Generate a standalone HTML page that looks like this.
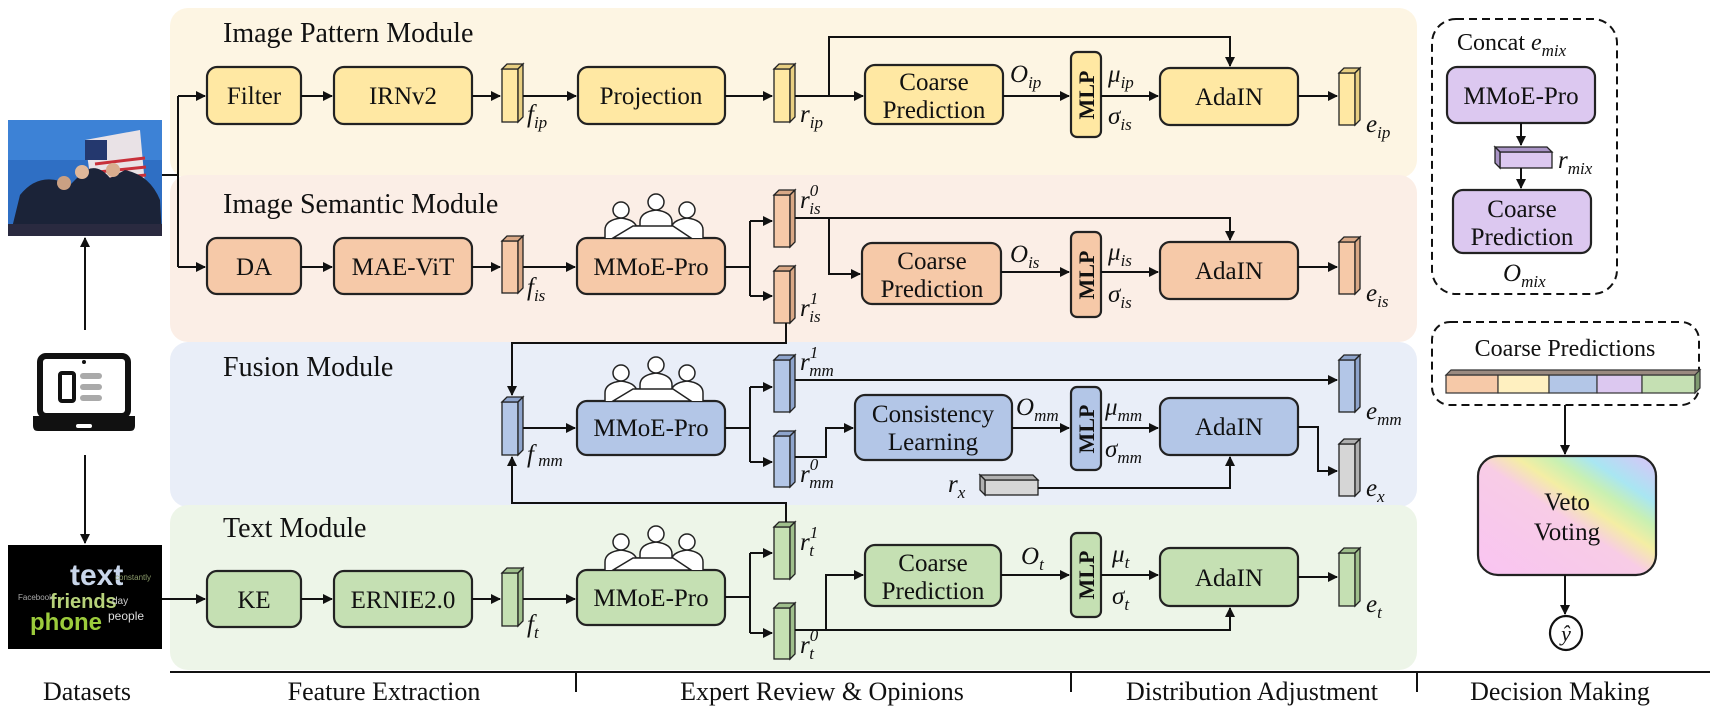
<!DOCTYPE html>
<html><head><meta charset="utf-8"><style>
html,body{margin:0;padding:0;background:#fff}
svg{display:block}
text{font-family:"Liberation Serif",serif;fill:#111}
.bl{font-size:25px;text-anchor:middle}
.ti{font-size:28px}
.bt{font-size:26px;text-anchor:middle}
.m{font-size:25px;font-style:italic}
.s{font-size:17px}
.ln{fill:none;stroke:#111;stroke-width:2}
.bx{stroke:#222;stroke-width:2.2}
</style></head><body>
<svg width="1710" height="713" viewBox="0 0 1710 713" xmlns="http://www.w3.org/2000/svg">
<defs>
<marker id="a" markerWidth="10" markerHeight="10" refX="9" refY="5" orient="auto" markerUnits="userSpaceOnUse"><path d="M0,0 L10,5 L0,10 z" fill="#111"/></marker>
<linearGradient id="vg" x1="0" y1="1" x2="1" y2="0">
<stop offset="0" stop-color="#f9c4f2"/><stop offset="0.48" stop-color="#f8cce6"/><stop offset="0.6" stop-color="#f4eea4"/><stop offset="0.7" stop-color="#c9f0b2"/><stop offset="0.8" stop-color="#a9e6f2"/><stop offset="1" stop-color="#dcc2f8"/>
</linearGradient>
<g id="ex">
<polygon points="-38,0 -18,-12 22,-12 40,0" fill="#fff" stroke="#222" stroke-width="1.5"/>
<g fill="#fff" stroke="#222" stroke-width="1.5">
<path d="M-46,0 v-8 q0,-10 16,-12 q16,2 16,12 v8"/><circle cx="-30" cy="-28" r="8"/>
<path d="M-11,-12 v-4 q0,-10 16,-12 q16,2 16,12 v4"/><circle cx="5" cy="-36" r="8"/>
<path d="M20,0 v-8 q0,-10 16,-12 q16,2 16,12 v8"/><circle cx="36" cy="-28" r="8"/>
</g>
<polygon points="-38,0 -18,-12 22,-12 40,0" fill="#fff" stroke="#222" stroke-width="1.5"/>
</g>
</defs>

<!-- panels -->
<rect x="170" y="8" width="1247" height="170" rx="18" fill="#fdf5e3"/>
<rect x="170" y="175" width="1247" height="167" rx="18" fill="#fbeee6"/>
<rect x="170" y="342" width="1247" height="165" rx="18" fill="#e9eef8"/>
<rect x="170" y="505" width="1247" height="165" rx="18" fill="#edf5e8"/>

<!-- photo -->
<rect x="8" y="120" width="154" height="116" fill="#2f6fc4"/>
<rect x="8" y="120" width="154" height="40" fill="#3d82d6"/>
<polygon points="85,140 140,130 145,185 92,190" fill="#e9e2e6"/>
<rect x="85" y="140" width="22" height="20" fill="#24386e"/>
<path d="M95,164 l50,-6 M98,172 l48,-5 M100,180 l46,-5" stroke="#c8303a" stroke-width="3"/>
<path d="M10,236 L20,195 Q40,170 70,185 L80,175 Q95,160 110,178 L125,170 Q150,175 160,200 L162,236 Z" fill="#1b2338"/>
<circle cx="82" cy="172" r="7" fill="#e0b89a"/><circle cx="113" cy="170" r="7" fill="#d9ad8e"/><circle cx="64" cy="183" r="7" fill="#caa083"/>
<rect x="8" y="224" width="154" height="12" fill="#2a2a40"/>

<!-- laptop -->
<rect x="40" y="356" width="88" height="60" rx="6" fill="#fff" stroke="#111" stroke-width="6"/>
<path d="M33,416 h102 v10 q0,5 -5,5 h-92 q-5,0 -5,-5 z" fill="#111"/>
<rect x="76" y="424" width="16" height="4" rx="2" fill="#fff"/>
<circle cx="84" cy="362" r="2" fill="#111"/>
<rect x="60" y="373" width="14" height="28" rx="2" fill="#fff" stroke="#111" stroke-width="4"/>
<rect x="80" y="373" width="22" height="6" rx="3" fill="#aaa"/><rect x="80" y="384" width="22" height="6" rx="3" fill="#aaa"/><rect x="80" y="395" width="22" height="6" rx="3" fill="#aaa"/>

<!-- wordcloud -->
<rect x="8" y="545" width="154" height="104" fill="#000"/>
<text x="70" y="585" style="font-family:'Liberation Sans',sans-serif;font-size:30px;font-weight:bold;fill:#c9d6ea">text</text>
<text x="50" y="608" style="font-family:'Liberation Sans',sans-serif;font-size:20px;font-weight:bold;fill:#b7d27a">friends</text>
<text x="30" y="630" style="font-family:'Liberation Sans',sans-serif;font-size:24px;font-weight:bold;fill:#9ccc3c">phone</text>
<text x="108" y="620" style="font-family:'Liberation Sans',sans-serif;font-size:12px;fill:#ddd">people</text>
<text x="112" y="604" style="font-family:'Liberation Sans',sans-serif;font-size:10px;fill:#ccc">day</text>
<text x="18" y="600" style="font-family:'Liberation Sans',sans-serif;font-size:8px;fill:#aaa">Facebook</text>
<text x="115" y="580" style="font-family:'Liberation Sans',sans-serif;font-size:8px;fill:#8a9a6a">constantly</text>

<!-- laptop arrows -->
<path class="ln" d="M85,330 V238" marker-end="url(#a)"/>
<path class="ln" d="M85,455 V543" marker-end="url(#a)"/>

<!-- titles -->
<text class="ti" x="223" y="42">Image Pattern Module</text>
<text class="ti" x="223" y="213">Image Semantic Module</text>
<text class="ti" x="223" y="376">Fusion Module</text>
<text class="ti" x="223" y="537">Text Module</text>

<!-- ===== Row 1 yellow ===== -->
<g fill="#ffe8a3" class="bx">
<rect x="207" y="67" width="94" height="57" rx="10"/>
<rect x="334" y="67" width="138" height="57" rx="10"/>
<rect x="578" y="67" width="147" height="57" rx="10"/>
<rect x="865" y="65" width="138" height="59" rx="10"/>
<rect x="1071" y="52" width="30" height="85" rx="6"/>
<rect x="1160" y="68" width="138" height="57" rx="10"/>
</g>
<text class="bl" x="254" y="104">Filter</text>
<text class="bl" x="403" y="104">IRNv2</text>
<text class="bl" x="651" y="104">Projection</text>
<text class="bl" x="934" y="90">Coarse</text><text class="bl" x="934" y="118">Prediction</text>
<text class="bl" x="1229" y="105">AdaIN</text>
<text class="bl" x="0" y="0" transform="translate(1094,95) rotate(-90)" style="font-weight:bold;font-size:22px">MLP</text>

<!-- ===== Row 2 salmon ===== -->
<g fill="#f6c9a8" class="bx">
<rect x="207" y="238" width="94" height="56" rx="10"/>
<rect x="334" y="238" width="138" height="56" rx="10"/>
<rect x="577" y="238" width="148" height="56" rx="10"/>
<rect x="862" y="243" width="139" height="61" rx="10"/>
<rect x="1071" y="232" width="30" height="85" rx="6"/>
<rect x="1160" y="242" width="138" height="57" rx="10"/>
</g>
<text class="bl" x="254" y="275">DA</text>
<text class="bl" x="403" y="275">MAE-ViT</text>
<text class="bl" x="651" y="275">MMoE-Pro</text>
<text class="bl" x="932" y="269">Coarse</text><text class="bl" x="932" y="297">Prediction</text>
<text class="bl" x="1229" y="279">AdaIN</text>
<text class="bl" x="0" y="0" transform="translate(1094,275) rotate(-90)" style="font-weight:bold;font-size:22px">MLP</text>
<use href="#ex" x="651" y="238"/>

<!-- ===== Fusion blue ===== -->
<g fill="#b3c6e7" class="bx">
<rect x="577" y="401" width="148" height="54" rx="10"/>
<rect x="855" y="395" width="157" height="65" rx="10"/>
<rect x="1071" y="387" width="30" height="83" rx="6"/>
<rect x="1160" y="398" width="138" height="57" rx="10"/>
</g>
<text class="bl" x="651" y="436">MMoE-Pro</text>
<text class="bl" x="933" y="422">Consistency</text><text class="bl" x="933" y="450">Learning</text>
<text class="bl" x="1229" y="435">AdaIN</text>
<text class="bl" x="0" y="0" transform="translate(1094,429) rotate(-90)" style="font-weight:bold;font-size:22px">MLP</text>
<use href="#ex" x="651" y="401"/>

<!-- ===== Text green ===== -->
<g fill="#c5e0b3" class="bx">
<rect x="207" y="571" width="94" height="56" rx="10"/>
<rect x="334" y="571" width="138" height="56" rx="10"/>
<rect x="577" y="570" width="148" height="55" rx="10"/>
<rect x="865" y="545" width="136" height="61" rx="10"/>
<rect x="1071" y="533" width="30" height="84" rx="6"/>
<rect x="1160" y="548" width="138" height="58" rx="10"/>
</g>
<text class="bl" x="254" y="608">KE</text>
<text class="bl" x="403" y="608">ERNIE2.0</text>
<text class="bl" x="651" y="606">MMoE-Pro</text>
<text class="bl" x="933" y="571">Coarse</text><text class="bl" x="933" y="599">Prediction</text>
<text class="bl" x="1229" y="586">AdaIN</text>
<text class="bl" x="0" y="0" transform="translate(1094,575) rotate(-90)" style="font-weight:bold;font-size:22px">MLP</text>
<use href="#ex" x="651" y="570"/>

<!-- ===== cuboids (vertical) ===== -->
<g stroke="#222" stroke-width="1.3">
<!-- yellow -->
<g fill="#ffe8a3"><rect x="502" y="69" width="16" height="53"/><rect x="774" y="69" width="16" height="53"/><rect x="1339" y="73" width="16" height="52"/></g>
<g fill="#e8cf82"><polygon points="502,69 507,64 523,64 518,69"/><polygon points="518,69 523,64 523,117 518,122"/>
<polygon points="774,69 779,64 795,64 790,69"/><polygon points="790,69 795,64 795,117 790,122"/>
<polygon points="1339,73 1344,68 1360,68 1355,73"/><polygon points="1355,73 1360,68 1360,120 1355,125"/></g>
<!-- salmon -->
<g fill="#f6c9a8"><rect x="502" y="241" width="16" height="52"/><rect x="774" y="195" width="16" height="52"/><rect x="774" y="271" width="16" height="52"/><rect x="1339" y="242" width="16" height="52"/></g>
<g fill="#d9a886"><polygon points="502,241 507,236 523,236 518,241"/><polygon points="518,241 523,236 523,288 518,293"/>
<polygon points="774,195 779,190 795,190 790,195"/><polygon points="790,195 795,190 795,242 790,247"/>
<polygon points="774,271 779,266 795,266 790,271"/><polygon points="790,271 795,266 795,318 790,323"/>
<polygon points="1339,242 1344,237 1360,237 1355,242"/><polygon points="1355,242 1360,237 1360,289 1355,294"/></g>
<!-- blue -->
<g fill="#b3c6e7"><rect x="502" y="402" width="16" height="53"/><rect x="774" y="360" width="16" height="52"/><rect x="774" y="436" width="16" height="51"/><rect x="1339" y="360" width="16" height="52"/></g>
<g fill="#8ea4cc"><polygon points="502,402 507,397 523,397 518,402"/><polygon points="518,402 523,397 523,450 518,455"/>
<polygon points="774,360 779,355 795,355 790,360"/><polygon points="790,360 795,355 795,407 790,412"/>
<polygon points="774,436 779,431 795,431 790,436"/><polygon points="790,436 795,431 795,482 790,487"/>
<polygon points="1339,360 1344,355 1360,355 1355,360"/><polygon points="1355,360 1360,355 1360,407 1355,412"/></g>
<!-- gray e_x -->
<rect x="1339" y="444" width="16" height="52" fill="#d6d6d6"/>
<g fill="#b0b0b0"><polygon points="1339,444 1344,439 1360,439 1355,444"/><polygon points="1355,444 1360,439 1360,491 1355,496"/></g>
<!-- green -->
<g fill="#c5e0b3"><rect x="502" y="573" width="16" height="53"/><rect x="774" y="527" width="16" height="52"/><rect x="774" y="608" width="16" height="51"/><rect x="1339" y="553" width="16" height="53"/></g>
<g fill="#9fbf8c"><polygon points="502,573 507,568 523,568 518,573"/><polygon points="518,573 523,568 523,621 518,626"/>
<polygon points="774,527 779,522 795,522 790,527"/><polygon points="790,527 795,522 795,574 790,579"/>
<polygon points="774,608 779,603 795,603 790,608"/><polygon points="790,608 795,603 795,654 790,659"/>
<polygon points="1339,553 1344,548 1360,548 1355,553"/><polygon points="1355,553 1360,548 1360,601 1355,606"/></g>
<!-- r_x horizontal gray -->
<rect x="985" y="480" width="53" height="15" fill="#d6d6d6"/>
<g fill="#b0b0b0"><polygon points="985,480 980,475 1033,475 1038,480"/><polygon points="985,480 980,475 980,490 985,495"/></g>
<!-- r_mix horizontal purple -->
<rect x="1500" y="152" width="52" height="16" fill="#dcc8f0"/>
<g fill="#a994c6"><polygon points="1500,152 1495,147 1547,147 1552,152"/><polygon points="1500,152 1495,147 1495,163 1500,168"/></g>
</g>

<!-- ===== connectors ===== -->
<g class="ln">
<path d="M162,175 H178"/><path d="M178,96 V267"/>
<path d="M178,96 H205" marker-end="url(#a)"/><path d="M178,267 H205" marker-end="url(#a)"/>
<path d="M301,96 H332" marker-end="url(#a)"/><path d="M472,96 H500" marker-end="url(#a)"/>
<path d="M523,96 H576" marker-end="url(#a)"/><path d="M725,96 H772" marker-end="url(#a)"/>
<path d="M795,96 H863" marker-end="url(#a)"/><path d="M1003,96 H1069" marker-end="url(#a)"/>
<path d="M1101,96 H1158" marker-end="url(#a)"/><path d="M1298,96 H1337" marker-end="url(#a)"/>
<path d="M829,96 V37 H1230 V66" marker-end="url(#a)"/>

<path d="M301,267 H332" marker-end="url(#a)"/><path d="M472,267 H500" marker-end="url(#a)"/>
<path d="M523,267 H575" marker-end="url(#a)"/>
<path d="M725,267 H750 M750,221 V296"/>
<path d="M750,221 H772" marker-end="url(#a)"/><path d="M750,296 H772" marker-end="url(#a)"/>
<path d="M795,218 H1230 V240" marker-end="url(#a)"/>
<path d="M829,218 V274 H860" marker-end="url(#a)"/>
<path d="M1001,272 H1069" marker-end="url(#a)"/><path d="M1101,272 H1158" marker-end="url(#a)"/>
<path d="M1298,267 H1337" marker-end="url(#a)"/>
<path d="M786,323 V343 H512 V395" marker-end="url(#a)"/>

<path d="M523,428 H575" marker-end="url(#a)"/>
<path d="M725,428 H750 M750,387 V462"/>
<path d="M750,387 H772" marker-end="url(#a)"/><path d="M750,462 H772" marker-end="url(#a)"/>
<path d="M795,380 H1337" marker-end="url(#a)"/>
<path d="M795,457 H826 V428 H853" marker-end="url(#a)"/>
<path d="M1012,428 H1069" marker-end="url(#a)"/><path d="M1101,428 H1158" marker-end="url(#a)"/>
<path d="M1298,427 H1318 V471 H1337" marker-end="url(#a)"/>
<path d="M1038,488 H1230 V457" marker-end="url(#a)"/>
<path d="M786,522 V503 H512 V457" marker-end="url(#a)"/>

<path d="M162,599 H205" marker-end="url(#a)"/>
<path d="M301,599 H332" marker-end="url(#a)"/><path d="M472,599 H500" marker-end="url(#a)"/>
<path d="M523,599 H575" marker-end="url(#a)"/>
<path d="M725,597 H750 M750,553 V633"/>
<path d="M750,553 H772" marker-end="url(#a)"/><path d="M750,633 H772" marker-end="url(#a)"/>
<path d="M795,630 H1230 V608" marker-end="url(#a)"/>
<path d="M826,630 V575 H863" marker-end="url(#a)"/>
<path d="M1001,575 H1069" marker-end="url(#a)"/><path d="M1101,575 H1158" marker-end="url(#a)"/>
<path d="M1298,577 H1337" marker-end="url(#a)"/>
</g>

<!-- ===== math labels ===== -->
<g class="m">
<text x="527" y="122">f<tspan class="s" dy="6">ip</tspan></text>
<text x="800" y="122">r<tspan class="s" dy="6">ip</tspan></text>
<text x="1010" y="82">O<tspan class="s" dy="6">ip</tspan></text>
<text x="1108" y="82">μ<tspan class="s" dy="6">ip</tspan></text>
<text x="1108" y="124">σ<tspan class="s" dy="6">is</tspan></text>
<text x="1366" y="132">e<tspan class="s" dy="6">ip</tspan></text>

<text x="527" y="295">f<tspan class="s" dy="6">is</tspan></text>
<text x="800" y="208">r<tspan class="s" dy="-12">0</tspan><tspan class="s" dx="-9" dy="18">is</tspan></text>
<text x="800" y="316">r<tspan class="s" dy="-12">1</tspan><tspan class="s" dx="-9" dy="18">is</tspan></text>
<text x="1010" y="262">O<tspan class="s" dy="6">is</tspan></text>
<text x="1108" y="260">μ<tspan class="s" dy="6">is</tspan></text>
<text x="1108" y="302">σ<tspan class="s" dy="6">is</tspan></text>
<text x="1366" y="301">e<tspan class="s" dy="6">is</tspan></text>

<text x="527" y="462">f<tspan class="s" dy="4"> mm</tspan></text>
<text x="800" y="370">r<tspan class="s" dy="-12">1</tspan><tspan class="s" dx="-9" dy="18">mm</tspan></text>
<text x="800" y="482">r<tspan class="s" dy="-12">0</tspan><tspan class="s" dx="-9" dy="18">mm</tspan></text>
<text x="1016" y="415">O<tspan class="s" dy="6">mm</tspan></text>
<text x="1105" y="415">μ<tspan class="s" dy="6">mm</tspan></text>
<text x="1105" y="457">σ<tspan class="s" dy="6">mm</tspan></text>
<text x="1366" y="419">e<tspan class="s" dy="6">mm</tspan></text>
<text x="1366" y="496">e<tspan class="s" dy="6">x</tspan></text>
<text x="948" y="492">r<tspan class="s" dy="6">x</tspan></text>

<text x="527" y="632">f<tspan class="s" dy="6">t</tspan></text>
<text x="800" y="550">r<tspan class="s" dy="-12">1</tspan><tspan class="s" dx="-9" dy="18">t</tspan></text>
<text x="800" y="653">r<tspan class="s" dy="-12">0</tspan><tspan class="s" dx="-9" dy="18">t</tspan></text>
<text x="1021" y="564">O<tspan class="s" dy="6">t</tspan></text>
<text x="1112" y="562">μ<tspan class="s" dy="6">t</tspan></text>
<text x="1112" y="604">σ<tspan class="s" dy="6">t</tspan></text>
<text x="1366" y="612">e<tspan class="s" dy="6">t</tspan></text>
</g>

<!-- ===== right side ===== -->
<rect x="1432" y="19" width="185" height="275" rx="24" fill="none" stroke="#111" stroke-width="2" stroke-dasharray="8,5"/>
<text x="1457" y="50" style="font-size:24px">Concat <tspan font-style="italic">e</tspan><tspan font-style="italic" class="s" dy="6">mix</tspan></text>
<rect x="1447" y="67" width="148" height="56" rx="10" fill="#dcc8f0" class="bx"/>
<text class="bl" x="1521" y="104">MMoE-Pro</text>
<path class="ln" d="M1521,123 V145" marker-end="url(#a)"/>
<path class="ln" d="M1521,168 V188" marker-end="url(#a)"/>
<text class="m" x="1558" y="168">r<tspan class="s" dy="6">mix</tspan></text>
<rect x="1453" y="190" width="138" height="63" rx="10" fill="#dcc8f0" class="bx"/>
<text class="bl" x="1522" y="217">Coarse</text><text class="bl" x="1522" y="245">Prediction</text>
<text class="m" x="1503" y="281">O<tspan class="s" dy="6">mix</tspan></text>

<rect x="1432" y="322" width="267" height="83" rx="18" fill="none" stroke="#111" stroke-width="2" stroke-dasharray="8,5"/>
<text x="1565" y="356" style="font-size:24px;text-anchor:middle">Coarse Predictions</text>
<g stroke="#333" stroke-width="1.2">
<rect x="1446" y="375" width="52" height="18" fill="#f6c9a8"/>
<rect x="1498" y="375" width="51" height="18" fill="#fff0c0"/>
<rect x="1549" y="375" width="48" height="18" fill="#b3c6e7"/>
<rect x="1597" y="375" width="45" height="18" fill="#dcc8f0"/>
<rect x="1642" y="375" width="53" height="18" fill="#c5e0b3"/>
<polygon points="1446,375 1451,370 1700,370 1695,375" fill="#9a8a80"/>
<polygon points="1695,375 1700,370 1700,388 1695,393" fill="#7f9a70"/>
</g>
<path class="ln" d="M1565,405 V454" marker-end="url(#a)"/>
<rect x="1478" y="456" width="178" height="119" rx="20" fill="url(#vg)" stroke="#222" stroke-width="2.2"/>
<text class="bl" x="1567" y="510">Veto</text><text class="bl" x="1567" y="540">Voting</text>
<path class="ln" d="M1565,575 V614" marker-end="url(#a)"/>
<ellipse cx="1566" cy="633" rx="16" ry="17" fill="#fff" stroke="#111" stroke-width="2.2"/>
<text class="m" x="1566" y="641" style="text-anchor:middle;font-size:22px">ŷ</text>

<!-- ===== bottom axis ===== -->
<path d="M170,672 H1710" stroke="#111" stroke-width="2"/>
<path d="M576,672 V692 M1071,672 V692 M1417,672 V692" stroke="#111" stroke-width="2"/>
<text class="bt" x="87" y="700">Datasets</text>
<text class="bt" x="384" y="700">Feature Extraction</text>
<text class="bt" x="822" y="700">Expert Review &amp; Opinions</text>
<text class="bt" x="1252" y="700">Distribution Adjustment</text>
<text class="bt" x="1560" y="700">Decision Making</text>
</svg>
</body></html>
